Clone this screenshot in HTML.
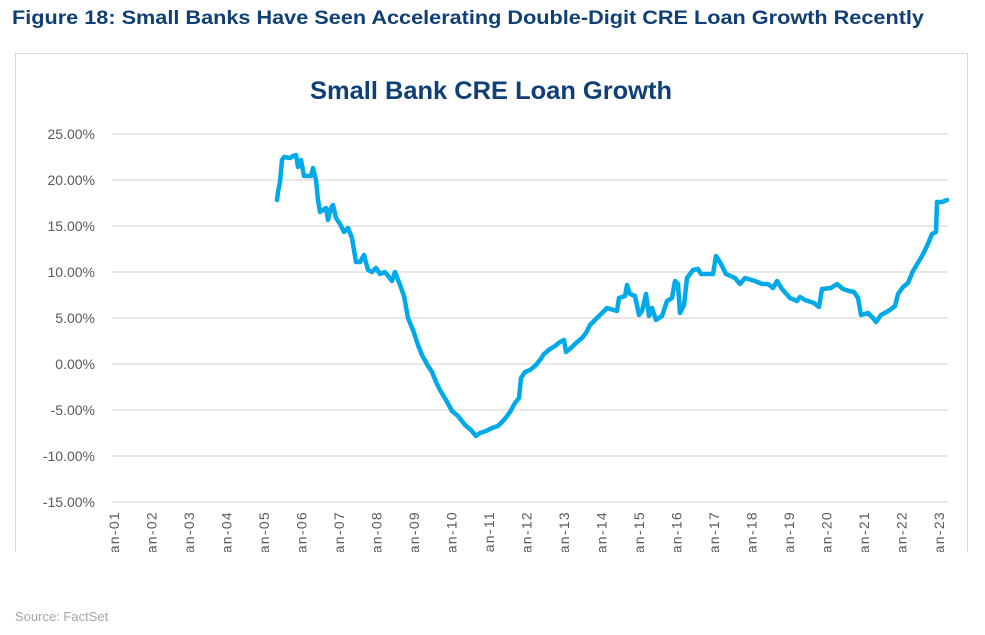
<!DOCTYPE html>
<html><head><meta charset="utf-8"><style>
html,body{margin:0;padding:0;background:#fff;width:985px;height:635px;overflow:hidden}
</style></head><body>
<svg width="985" height="635" xmlns="http://www.w3.org/2000/svg">
<text x="12" y="24" font-family="Liberation Sans, sans-serif" font-weight="bold" font-size="19" fill="#0f3f74" textLength="912" lengthAdjust="spacingAndGlyphs">Figure 18: Small Banks Have Seen Accelerating Double-Digit CRE Loan Growth Recently</text>
<line x1="15.5" y1="53.5" x2="967.5" y2="53.5" stroke="#d9d9d9"/>
<line x1="15.5" y1="53" x2="15.5" y2="552" stroke="#d9d9d9"/>
<line x1="967.5" y1="53" x2="967.5" y2="552" stroke="#d9d9d9"/>
<text x="491" y="99" text-anchor="middle" font-family="Liberation Sans, sans-serif" font-weight="bold" font-size="25" fill="#0f3f74" textLength="362" lengthAdjust="spacingAndGlyphs">Small Bank CRE Loan Growth</text>
<g stroke="#d9d9d9" stroke-width="1.3">
<line x1="112" x2="948" y1="134" y2="134"/><line x1="112" x2="948" y1="180" y2="180"/>
<line x1="112" x2="948" y1="226" y2="226"/><line x1="112" x2="948" y1="272" y2="272"/>
<line x1="112" x2="948" y1="318" y2="318"/><line x1="112" x2="948" y1="364" y2="364"/>
<line x1="112" x2="948" y1="410" y2="410"/><line x1="112" x2="948" y1="456" y2="456"/>
<line x1="112" x2="948" y1="502" y2="502"/>
</g>
<g font-family="Liberation Sans, sans-serif" font-size="14" fill="#595959" text-anchor="end">
<text x="95" y="139">25.00%</text><text x="95" y="185">20.00%</text><text x="95" y="231">15.00%</text>
<text x="95" y="277">10.00%</text><text x="95" y="323">5.00%</text><text x="95" y="369">0.00%</text>
<text x="95" y="415">-5.00%</text><text x="95" y="461">-10.00%</text><text x="95" y="507">-15.00%</text>
</g>
<defs><clipPath id="c"><rect x="0" y="500" width="985" height="52"/></clipPath></defs>
<g clip-path="url(#c)" font-family="Liberation Sans, sans-serif" font-size="14" letter-spacing="1.3" fill="#595959" text-anchor="end">
<text transform="translate(119,511) rotate(-90)">Jan-01</text>
<text transform="translate(156.5,511) rotate(-90)">Jan-02</text>
<text transform="translate(194,511) rotate(-90)">Jan-03</text>
<text transform="translate(231.5,511) rotate(-90)">Jan-04</text>
<text transform="translate(269,511) rotate(-90)">Jan-05</text>
<text transform="translate(306.5,511) rotate(-90)">Jan-06</text>
<text transform="translate(344,511) rotate(-90)">Jan-07</text>
<text transform="translate(381.5,511) rotate(-90)">Jan-08</text>
<text transform="translate(419,511) rotate(-90)">Jan-09</text>
<text transform="translate(456.5,511) rotate(-90)">Jan-10</text>
<text transform="translate(494,511) rotate(-90)">Jan-11</text>
<text transform="translate(531.5,511) rotate(-90)">Jan-12</text>
<text transform="translate(569,511) rotate(-90)">Jan-13</text>
<text transform="translate(606.5,511) rotate(-90)">Jan-14</text>
<text transform="translate(644,511) rotate(-90)">Jan-15</text>
<text transform="translate(681.5,511) rotate(-90)">Jan-16</text>
<text transform="translate(719,511) rotate(-90)">Jan-17</text>
<text transform="translate(756.5,511) rotate(-90)">Jan-18</text>
<text transform="translate(794,511) rotate(-90)">Jan-19</text>
<text transform="translate(831.5,511) rotate(-90)">Jan-20</text>
<text transform="translate(869,511) rotate(-90)">Jan-21</text>
<text transform="translate(906.5,511) rotate(-90)">Jan-22</text>
<text transform="translate(944,511) rotate(-90)">Jan-23</text>
</g>
<polyline fill="none" stroke="#00a9e8" stroke-width="4.5" stroke-linejoin="round" stroke-linecap="round" points="
277,200 278,192 280,182 282,160 284,157 290,158 293,156 296,155 298,167 301,160 304,176 308,176 311,176 313,168 316,180 318,200 320,212 323,210 326,208 328,220 331,208 333,205 336,218 340,224 344,232 348,228 352,238 356,262 360,262 364,255 368,270 372,272 376,268 380,274 385,272 392,281 395,272 400,285 404,296 408,318 413,330 418,345 422,355 428,366 432,372 436,382 440,390 446,400 452,411 458,416 465,425 471,430 476,436 480,433 486,431 492,428 498,426 504,420 510,412 515,403 519,398 521,378 525,372 530,370 535,366 540,360 544,354 550,349 555,346 560,342 564,340 566,352 572,347 577,342 582,338 586,333 590,325 597,318 607,308 617,311 619,298 625,296 627,285 630,294 635,296 639,315 642,311 646,294 649,316 652,308 656,320 662,316 667,301 672,298 675,281 678,284 680,313 684,305 687,278 693,270 698,269 701,274 708,274 713,274 716,256 721,264 726,274 735,278 740,284 745,278 755,281 762,284 768,284 773,288 777,281 782,289 790,298 797,301 800,297 805,300 814,303 819,307 822,289 831,288 837,284 843,289 849,291 854,292 858,298 861,315 868,313 873,318 876,322 881,315 890,310 895,306 898,294 903,287 908,283 913,271 922,256 927,246 932,234 936,232 937,202 942,202 947,200"/>
<text x="15" y="621" font-family="Liberation Sans, sans-serif" font-size="13" fill="#a6a6a6">Source: FactSet</text>
</svg>
</body></html>
